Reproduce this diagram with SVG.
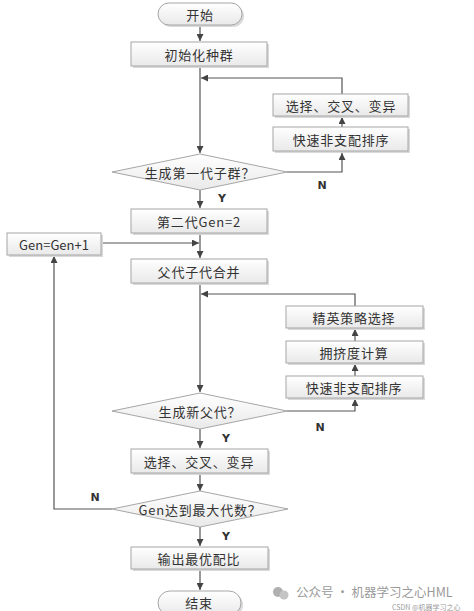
<svg xmlns="http://www.w3.org/2000/svg" width="474" height="611" viewBox="0 0 474 611">
<defs>
<linearGradient id="g" x1="0" y1="0" x2="0" y2="1">
<stop offset="0" stop-color="#ffffff"/>
<stop offset="1" stop-color="#e9e9e9"/>
</linearGradient>
<marker id="a" viewBox="0 0 10 10" refX="10" refY="5" markerWidth="7" markerHeight="7" markerUnits="userSpaceOnUse" orient="auto">
<path d="M0,0 L10,5 L0,10 z" fill="#444"/>
</marker>
<style>
.box{fill:url(#g);stroke:#a6a6a6;stroke-width:1}
.sh{fill:#d9d9d9;stroke:none}
.t{font-family:"Noto Sans CJK SC","Noto Sans CJK JP",sans-serif;font-size:13px;fill:#333;text-anchor:middle;dominant-baseline:central;letter-spacing:0.8px}
.l{font-family:"DejaVu Sans","Liberation Sans",sans-serif;font-size:11px;font-weight:bold;fill:#333;text-anchor:middle;dominant-baseline:central}
.c{fill:none;stroke:#555;stroke-width:1.2}
.wm{font-family:"Noto Sans CJK SC",sans-serif;fill:#9a9a9a}
</style>
</defs>
<rect width="474" height="611" fill="#ffffff"/>

<g id="connectors">
<path class="c" d="M200,25 V41" marker-end="url(#a)"/>
<path class="c" d="M200,66 V153" marker-end="url(#a)"/>
<path class="c" d="M287,172 H342 V153" marker-end="url(#a)"/>
<path class="c" d="M342,127 V117" marker-end="url(#a)"/>
<path class="c" d="M342,94 V78 H201" marker-end="url(#a)"/>
<path class="c" d="M200,190 V208" marker-end="url(#a)"/>
<path class="c" d="M200,233 V258" marker-end="url(#a)"/>
<path class="c" d="M101,243 H199" marker-end="url(#a)"/>
<path class="c" d="M200,283 V392" marker-end="url(#a)"/>
<path class="c" d="M287,411 H355 V399" marker-end="url(#a)"/>
<path class="c" d="M355,376 V364" marker-end="url(#a)"/>
<path class="c" d="M355,341 V329" marker-end="url(#a)"/>
<path class="c" d="M355,306 V294 H201" marker-end="url(#a)"/>
<path class="c" d="M200,429 V448" marker-end="url(#a)"/>
<path class="c" d="M200,473 V491" marker-end="url(#a)"/>
<path class="c" d="M112,509 H54 V256" marker-end="url(#a)"/>
<path class="c" d="M200,527 V546" marker-end="url(#a)"/>
<path class="c" d="M200,569 V590" marker-end="url(#a)"/>
<text class="l" x="322" y="185">N</text>
<text class="l" x="222" y="198">Y</text>
<text class="l" x="320" y="427">N</text>
<text class="l" x="226" y="438">Y</text>
<text class="l" x="95" y="497">N</text>
<text class="l" x="226" y="536">Y</text>
</g>

<g id="start">
<rect class="sh" x="160" y="5" width="84" height="22" rx="11"/>
<rect class="box" x="158" y="3" width="84" height="22" rx="11"/>
<text class="t" x="200" y="14">开始</text>
</g>
<g id="init">
<rect class="sh" x="133" y="44" width="136" height="24"/>
<rect class="box" x="131" y="42" width="136" height="24"/>
<text class="t" x="199" y="54">初始化种群</text>
</g>
<g id="sel1">
<rect class="sh" x="275" y="96" width="135" height="22"/>
<rect class="box" x="273" y="94" width="135" height="22"/>
<text class="t" x="341" y="105">选择、交叉、变异</text>
</g>
<g id="sort1">
<rect class="sh" x="275" y="129" width="135" height="24"/>
<rect class="box" x="273" y="127" width="135" height="24"/>
<text class="t" x="341" y="139">快速非支配排序</text>
</g>
<g id="dec1">
<polygon points="200,154 287,172 200,190 112,172" fill="url(#g)" stroke="#a6a6a6"/>
<text class="t" x="200" y="172">生成第一代子群？</text>
</g>
<g id="gen2">
<rect class="sh" x="133" y="211" width="136" height="24"/>
<rect class="box" x="131" y="209" width="136" height="24"/>
<text class="t" x="199" y="221">第二代Gen=2</text>
</g>
<g id="genplus">
<rect class="sh" x="9" y="235" width="94" height="22"/>
<rect class="box" x="7" y="233" width="94" height="22"/>
<text class="t" x="54" y="244" style="letter-spacing:0">Gen=Gen+1</text>
</g>
<g id="merge">
<rect class="sh" x="133" y="261" width="136" height="24"/>
<rect class="box" x="131" y="259" width="136" height="24"/>
<text class="t" x="199" y="271">父代子代合并</text>
</g>
<g id="elite">
<rect class="sh" x="288" y="308" width="137" height="22"/>
<rect class="box" x="286" y="306" width="137" height="22"/>
<text class="t" x="354" y="317">精英策略选择</text>
</g>
<g id="crowd">
<rect class="sh" x="288" y="343" width="137" height="22"/>
<rect class="box" x="286" y="341" width="137" height="22"/>
<text class="t" x="354" y="352">拥挤度计算</text>
</g>
<g id="sort2">
<rect class="sh" x="288" y="378" width="137" height="22"/>
<rect class="box" x="286" y="376" width="137" height="22"/>
<text class="t" x="354" y="387">快速非支配排序</text>
</g>
<g id="dec2">
<polygon points="200,393 287,411 200,429 112,411" fill="url(#g)" stroke="#a6a6a6"/>
<text class="t" x="200" y="411">生成新父代？</text>
</g>
<g id="sel2">
<rect class="sh" x="133" y="451" width="137" height="24"/>
<rect class="box" x="131" y="449" width="137" height="24"/>
<text class="t" x="199" y="461">选择、交叉、变异</text>
</g>
<g id="dec3">
<polygon points="200,491 288,509 200,527 112,509" fill="url(#g)" stroke="#a6a6a6"/>
<text class="t" x="200" y="509">Gen达到最大代数？</text>
</g>
<g id="output">
<rect class="sh" x="133" y="549" width="137" height="22"/>
<rect class="box" x="131" y="547" width="137" height="22"/>
<text class="t" x="199" y="558">输出最优配比</text>
</g>
<g id="end">
<rect class="sh" x="160" y="593" width="83" height="24" rx="12"/>
<rect class="box" x="158" y="591" width="83" height="24" rx="12"/>
<text class="t" x="199" y="602">结束</text>
</g>

<g id="watermark">
<circle cx="278" cy="592" r="5" fill="#b0b0b0"/>
<circle cx="284" cy="595" r="4.5" fill="#c4c4c4"/>
<text class="wm" x="296" y="597" font-size="12.5">公众号 · 机器学习之心HML</text>
<text class="wm" x="392" y="610" font-size="7" fill="#bbbbbb">CSDN @机器学习之心</text>
</g>
</svg>
